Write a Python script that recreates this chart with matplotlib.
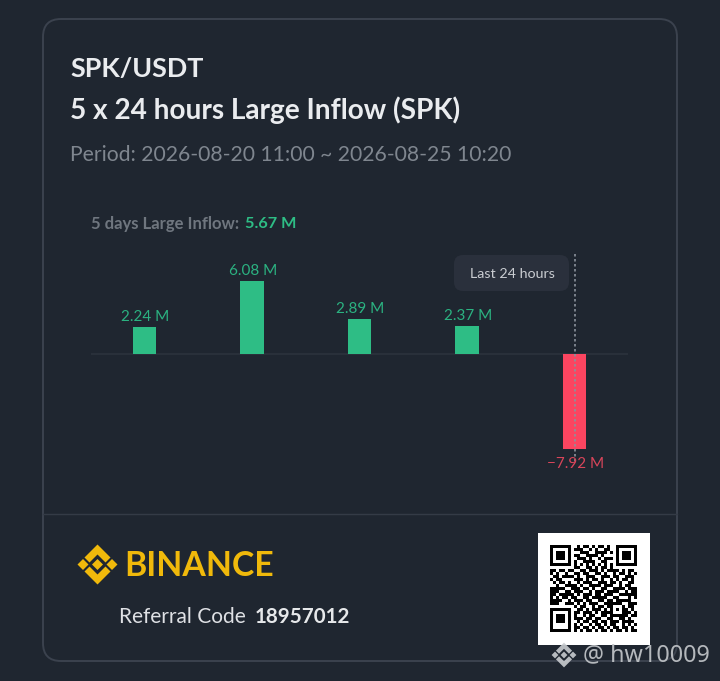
import numpy as np
import matplotlib.pyplot as plt
from matplotlib.patches import FancyBboxPatch, Polygon

plt.rcParams['font.family'] = ['Lato', 'DejaVu Sans']

days = [0, 1, 2, 3, 4]
inflow = [2.24, 6.08, 2.89, 2.37, -7.92]
labels = ['2.24 M', '6.08 M', '2.89 M', '2.37 M', '\u22127.92 M']
qr_rows = [
    "11111110010110101101001111111",
    "10000010111001010011001000001",
    "10111010001110011110101011101",
    "10111010110011110100001011101",
    "10111010011101001011101011101",
    "10000010100111100110001000001",
    "11111110101010101010101111111",
    "00000000110011010110100000000",
    "11011011001101110101111010110",
    "10100100110110011010010110101",
    "01101111010011100111011001110",
    "10110000111010110100101011010",
    "01011010010111001110110100110",
    "00100111101001111011100101100",
    "11111001110110100110011110111",
    "11100110111001011101111001011",
    "11011111010111011011100111111",
    "10101101100110111110011000101",
    "11110010111011001101101111100",
    "11100111010101110011111100111",
    "00000000101100101101100010110",
    "11111110011010111010101011010",
    "10000010110111010111100011101",
    "10111010100101100110111111011",
    "10111010111011011001100110100",
    "10111010010110110110111011110",
    "10000010101001011010110010101",
    "10000010110110101101011011010",
    "11111110101011010110101101011",
]

BG = '#1f2630'
GREEN = '#2ebd85'
RED = '#fb4560'
W, H = 720, 681

fig = plt.figure(figsize=(7.2, 6.81), dpi=100, facecolor=BG)

# page layer, works in pixels
page = fig.add_axes([0, 0, 1, 1])
page.set_xlim(0, W)
page.set_ylim(H, 0)
page.axis('off')

page.add_patch(FancyBboxPatch((43, 19), 634, 642, boxstyle='round,pad=0,rounding_size=18',
                              fc=BG, ec='#3b424e', lw=1.4))
page.plot([43, 677], [514, 514], color='#343b46', lw=1)

page.text(70, 69, 'SPK/USDT', color='#eaecef', fontsize=19.4, fontweight='bold', va='center')
page.text(70, 110.5, '5 x 24 hours Large Inflow (SPK)', color='#eaecef', fontsize=20.2, fontweight='bold', va='center')
page.text(70, 155, 'Period: 2026-08-20 11:00 ~ 2026-08-25 10:20', color='#7f868f', fontsize=15.2, va='center')
page.text(91, 224, '5 days Large Inflow:', color='#6f767f', fontsize=12, fontweight='bold', va='center')
page.text(245, 224, '5.67 M', color=GREEN, fontsize=11.7, fontweight='bold', va='center')

# chart layer, baseline at y=354, 12 px per M
chart = fig.add_axes([90.8 / W, 1 - 480 / H, 537.5 / W, 240 / H], facecolor='none')
chart.set_xlim(-0.5, 4.5)
chart.set_ylim(-10.5, 9.5)
chart.axis('off')
colors = [GREEN if v > 0 else RED for v in inflow]
chart.bar(days, inflow, width=0.218, color=colors, zorder=2)
chart.axhline(0, color='#2c333d', lw=1.2, zorder=1)
chart.plot([4, 4], [8.3, -8.9], color='#8b929b', lw=1.2, ls=(0, (1.5, 1.5)), zorder=3)
for d, v, s, c in zip(days, inflow, labels, colors):
    if v > 0:
        chart.annotate(s, (d, v), xytext=(1, 3), textcoords='offset pixels', ha='center', va='bottom',
                       color='#2bb281', fontsize=11)
    else:
        chart.annotate(s, (d, v), xytext=(1, -8), textcoords='offset pixels', ha='center', va='top',
                       color='#d8455a', fontsize=11)

page.add_patch(FancyBboxPatch((454, 255), 115, 36, boxstyle='round,pad=0,rounding_size=9',
                              fc='#2a303c', ec='none'))
page.text(512, 274, 'Last 24 hours', color='#c9ccd1', fontsize=10.3, ha='center', va='center')


def logo(cx, cy, k, color, alpha=1.0, z=5):
    top = np.array([(0, -20), (13, -7), (8, -2), (0, -10), (-8, -2), (-13, -7)])
    bottom = top * [1, -1]
    d = np.array([(0, -5.5), (5.5, 0), (0, 5.5), (-5.5, 0)])
    shapes = [top, bottom, d, d + [14.5, 0], d + [-14.5, 0]]
    for s in shapes:
        page.add_patch(Polygon(s * k + [cx, cy], closed=True, fc=color, ec='none', alpha=alpha, zorder=z))


logo(97.5, 564.5, 1.0, '#f0b90b')
page.text(124, 566.5, 'BINANCE', color='#f0b90b', fontsize=24.3, fontweight='bold', va='center')
page.text(119, 617, 'Referral Code', color='#dfe1e5', fontsize=15, va='center')
page.text(255, 617, '18957012', color='#e6e8ea', fontsize=14.9, fontweight='bold', va='center')

# qr code
page.add_patch(plt.Rectangle((538, 533), 112, 112, fc='white', ec='none', zorder=3))
qr = np.array([[int(c) for c in r] for r in qr_rows])
page.imshow(1 - qr, cmap='gray', vmin=0, vmax=1, extent=(550, 637, 632, 545),
            interpolation='nearest', zorder=4, aspect='auto')
page.set_xlim(0, W)
page.set_ylim(H, 0)

# watermark
logo(564, 655, 0.62, '#c9ccd0', alpha=0.9, z=6)
page.text(583, 655, '@ hw10009', color='#c2c5c9', fontsize=16.8, family='Noto Sans', va='center', zorder=6, alpha=0.92)

fig.savefig('out.png', dpi=100, facecolor=BG)
